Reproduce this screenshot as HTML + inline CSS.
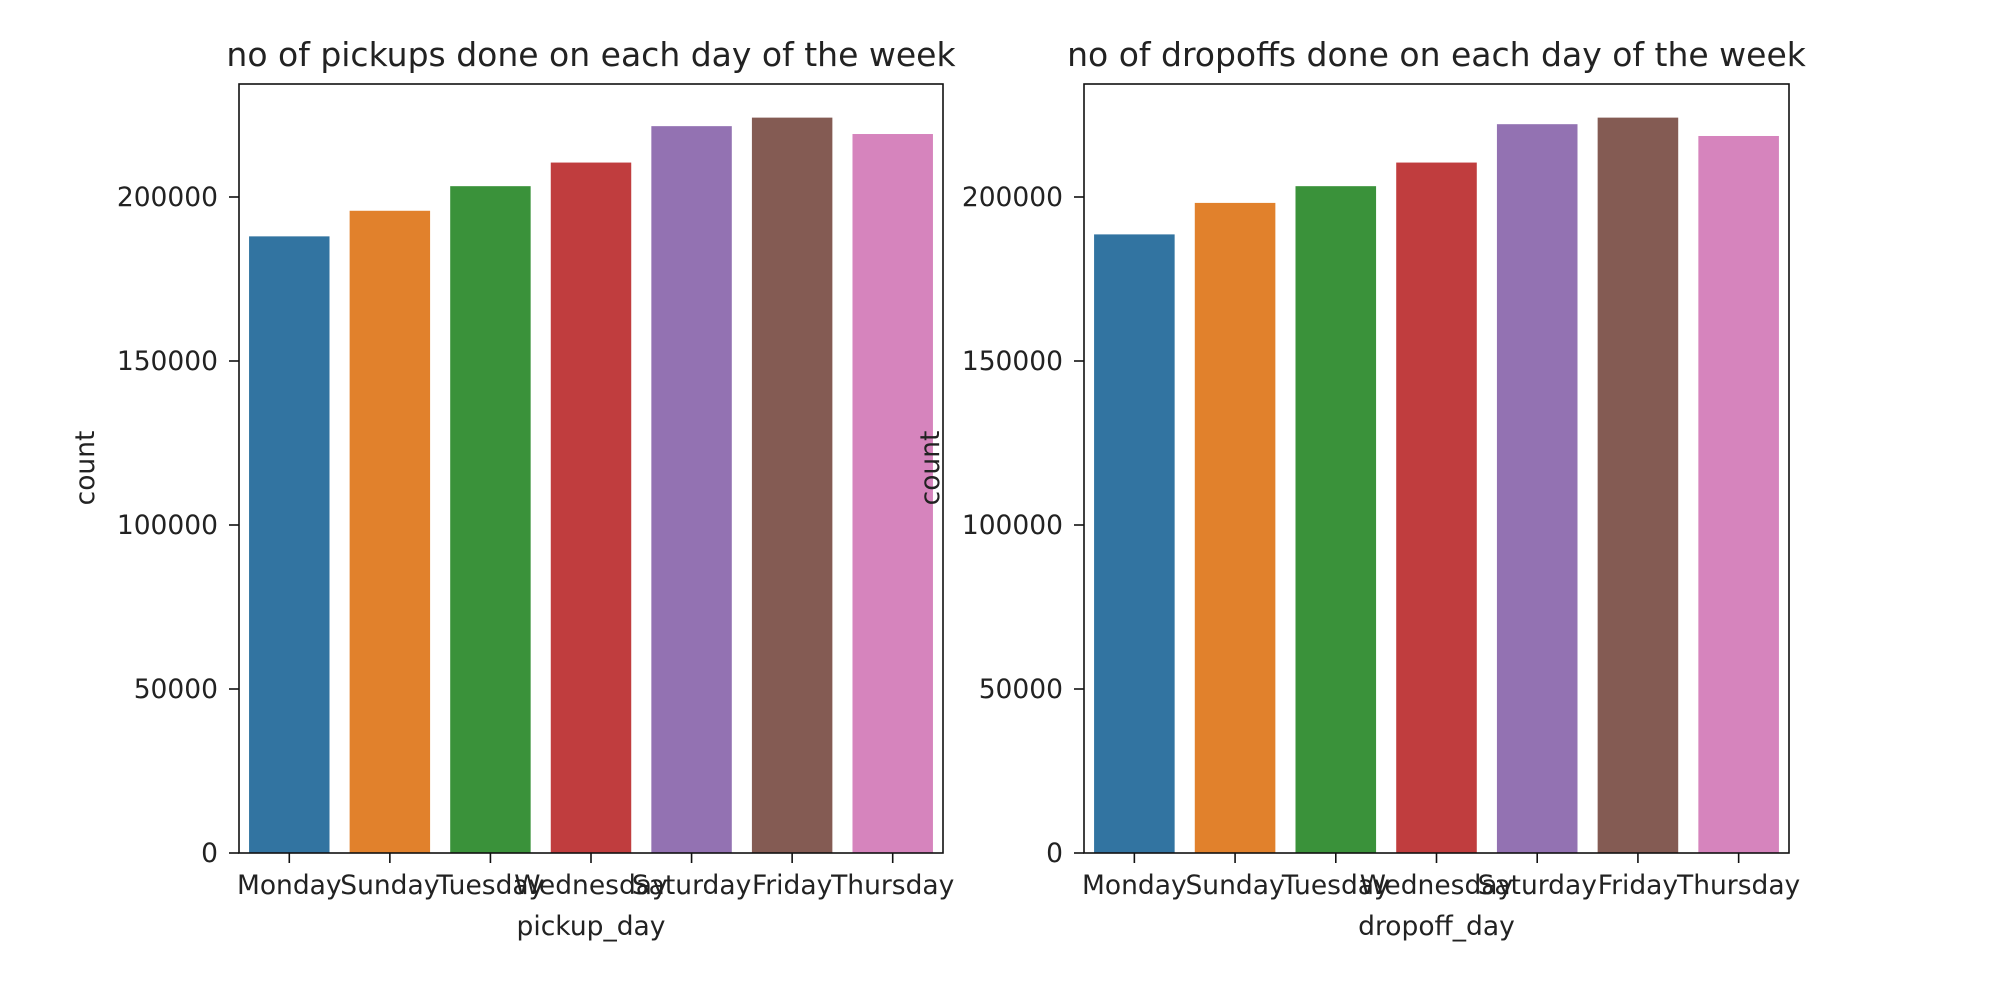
<!DOCTYPE html>
<html><head><meta charset="utf-8"><style>
body{margin:0;background:#fff;}
svg{display:block;font-family:"DejaVu Sans","Liberation Sans",sans-serif;}
</style></head><body>
<svg id="fig" width="1990" height="984" xmlns="http://www.w3.org/2000/svg"></svg>
<script>
const categories = ["Monday","Sunday","Tuesday","Wednesday","Saturday","Friday","Thursday"];
const pickupCounts = [188000,195800,203300,210500,221600,224200,219200];
const dropoffCounts = [188600,198200,203300,210500,222200,224200,218600];
const yTicks = [0,50000,100000,150000,200000];
const colors = ["#3274a1","#e1812c","#3a923a","#c03d3e","#9372b2","#845b53","#d684bd"];
const NS="http://www.w3.org/2000/svg";
const svg=document.getElementById('fig');
function mk(tag,attrs,parent){const e=document.createElementNS(NS,tag);for(const k in attrs)e.setAttribute(k,attrs[k]);(parent||svg).appendChild(e);return e;}
function panel(x0,x1,values,title,xlabel,key){
  const top=84,bottom=853;
  const g=mk('g',{});
  
  
  const yScale=v=>bottom-v*(bottom-197)/200000;
  const slot=(x1-x0)/categories.length;
  const xc=i=>x0+slot*(i+0.5);
  values.forEach((v,i)=>{
    const r=mk('rect',{x:xc(i)-slot*0.4,y:yScale(v),width:slot*0.8,height:bottom-yScale(v),fill:colors[i]},g);
    
    
  });
  mk('rect',{x:x0,y:top,width:x1-x0,height:bottom-top,fill:'none',stroke:'#111','stroke-width':1.6},g);
  yTicks.forEach(t=>{
    const yy=yScale(t);
    mk('line',{x1:x0-10,x2:x0,y1:yy,y2:yy,stroke:'#111','stroke-width':1.6},g);
    const tx=mk('text',{x:x0-21,y:yy+9,'text-anchor':'end','font-size':26.5,fill:'#222'},g);
    tx.textContent=t;
    
    
  });
  categories.forEach((c,i)=>{
    mk('line',{x1:xc(i),x2:xc(i),y1:bottom,y2:bottom+10,stroke:'#111','stroke-width':1.6},g);
    const tx=mk('text',{x:xc(i),y:bottom+41,'text-anchor':'middle','font-size':26.5,fill:'#222'},g);
    tx.textContent=c;
    
    
  });
  const t=mk('text',{x:(x0+x1)/2,y:66,'text-anchor':'middle','font-size':33,fill:'#222'},g);
  t.textContent=title;
  
  
  const xl=mk('text',{x:(x0+x1)/2,y:935,'text-anchor':'middle','font-size':26.5,fill:'#222'},g);
  xl.textContent=xlabel;
  
  
  const yl=mk('text',{x:0,y:0,'text-anchor':'middle','font-size':26.5,fill:'#222',transform:`translate(${x0-145},468) rotate(-90)`},g);
  yl.textContent='count';
  
  
}
panel(239,943,pickupCounts,'no of pickups done on each day of the week','pickup_day','pickup');
panel(1084,1789,dropoffCounts,'no of dropoffs done on each day of the week','dropoff_day','dropoff');
</script>
</body></html>
